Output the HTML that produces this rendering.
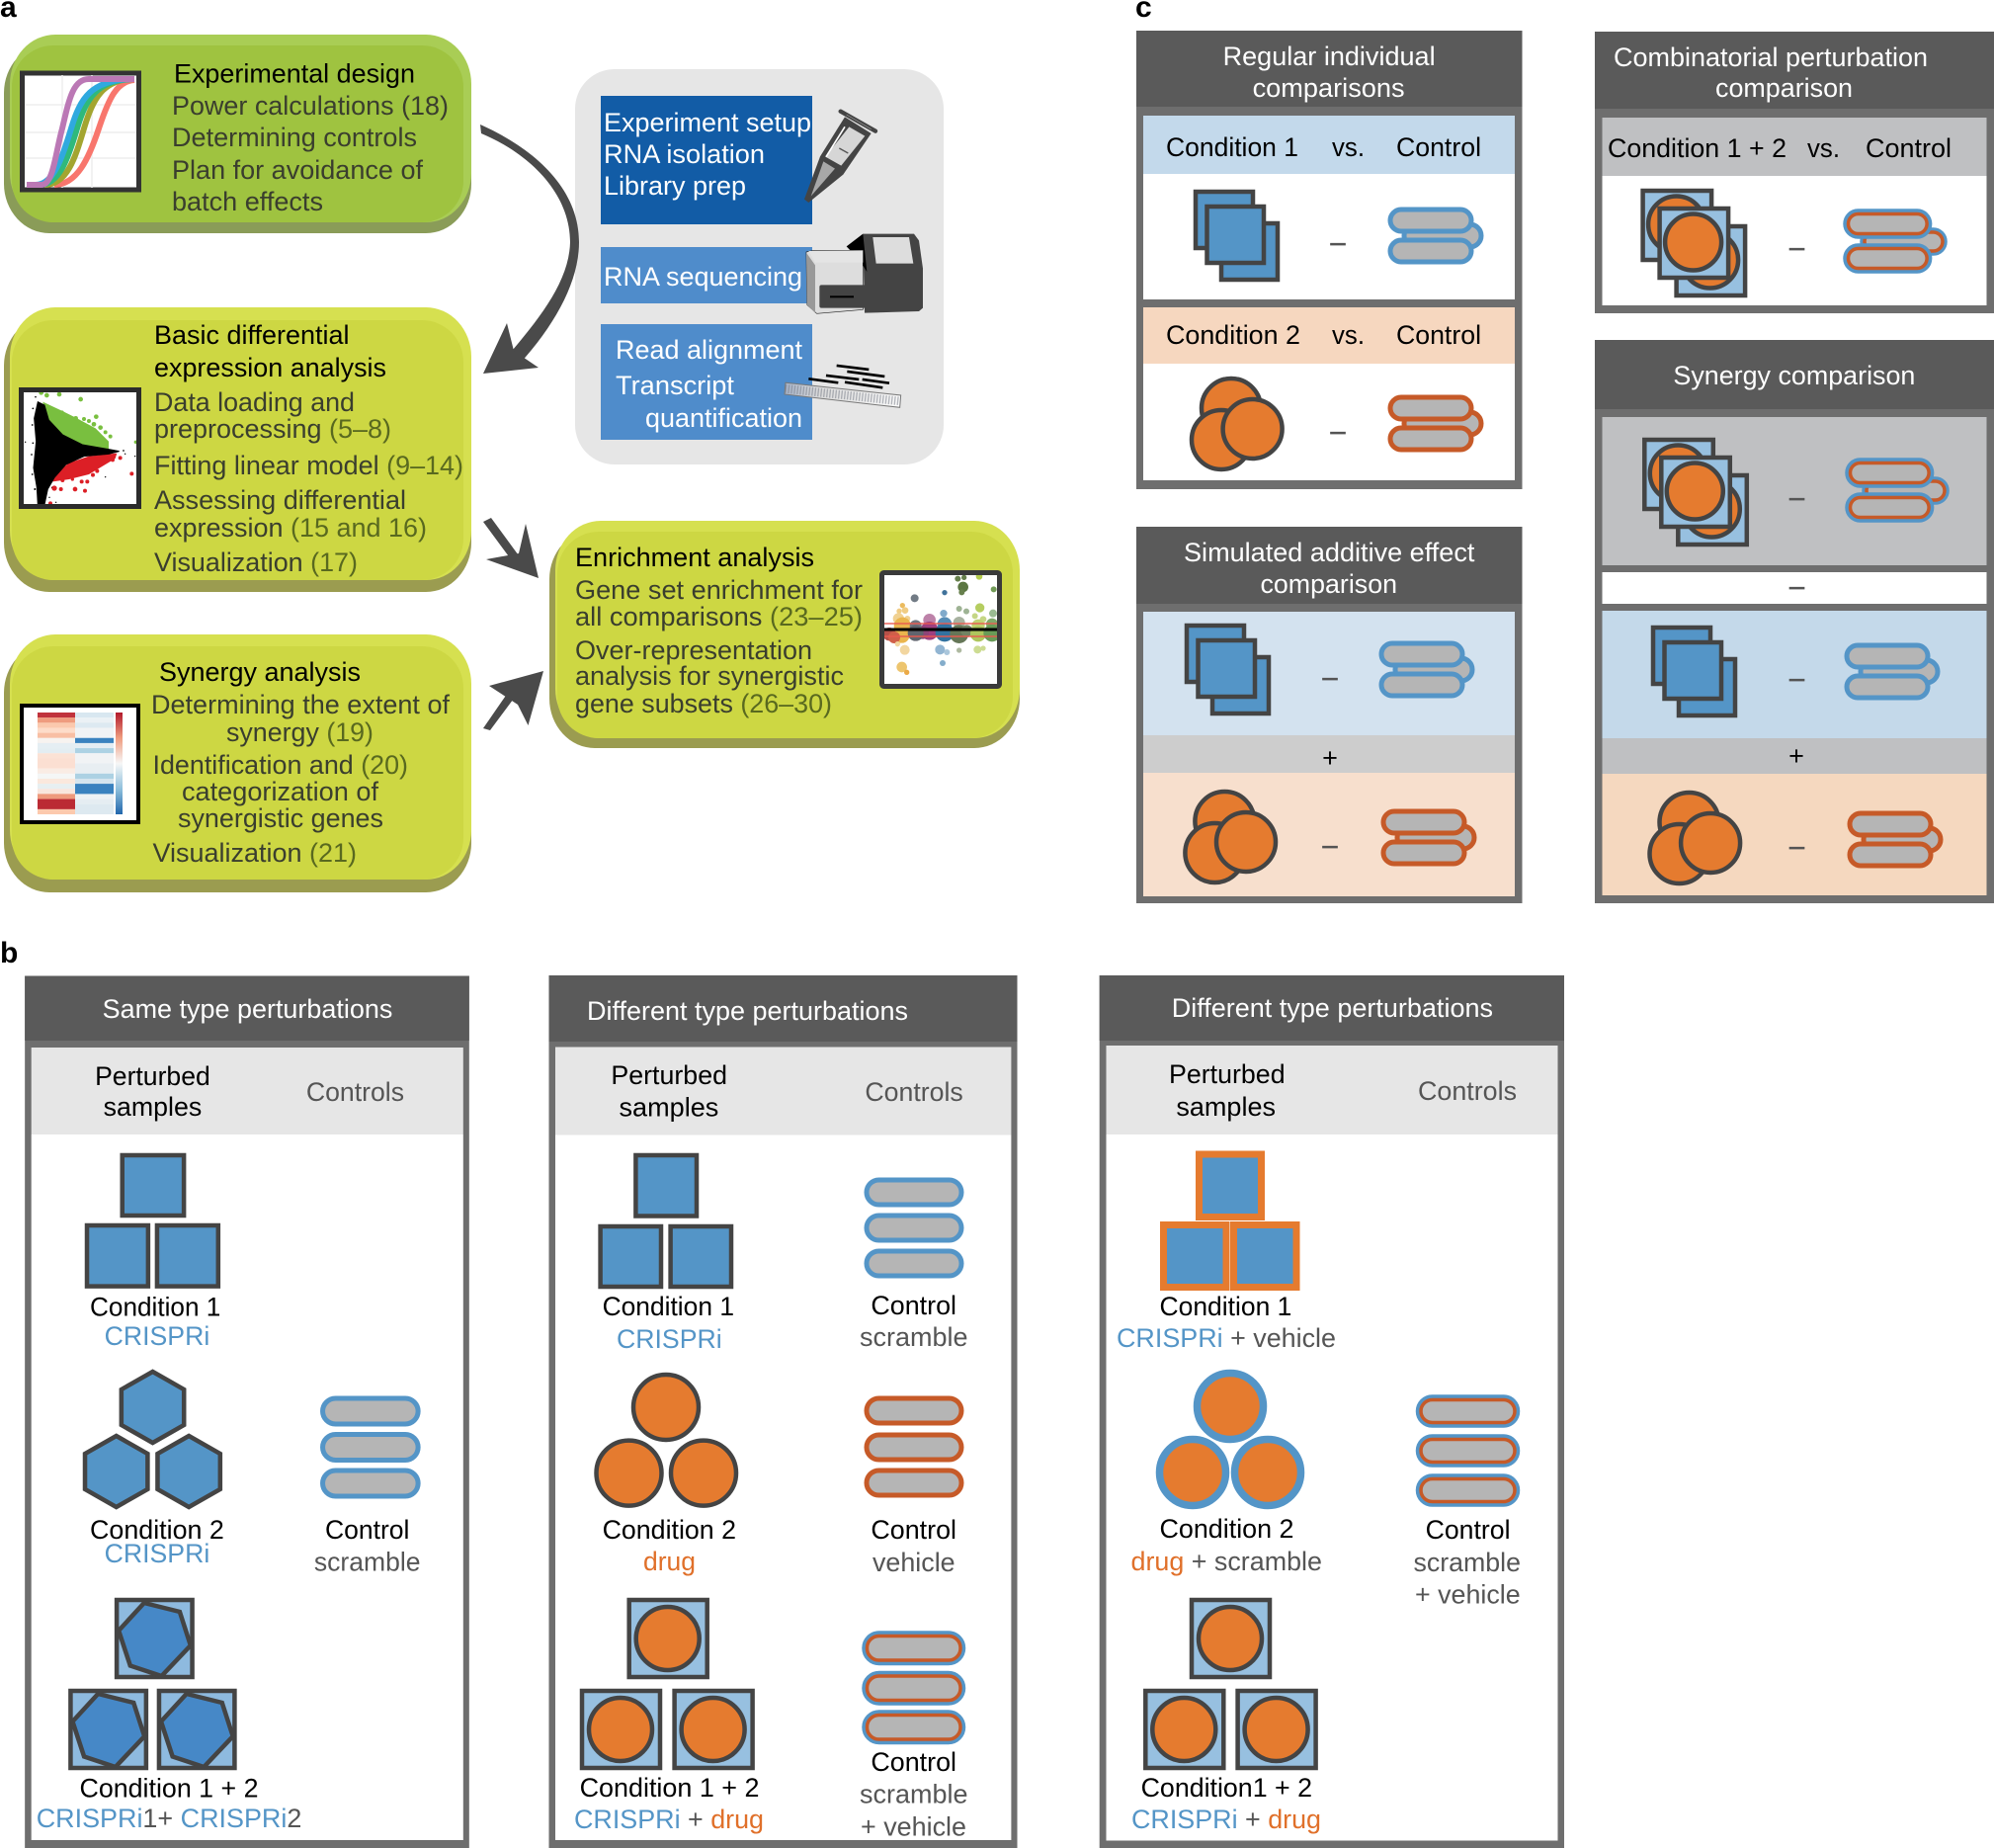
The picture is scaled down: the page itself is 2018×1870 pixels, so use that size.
<!DOCTYPE html>
<html><head><meta charset="utf-8"><style>
html,body{margin:0;padding:0;background:#fff}
svg{display:block}
text{font-family:"Liberation Sans",sans-serif;font-size:27px;fill:#000}
.bb text{transform:translateY(-1px)}
.b{fill:#3a3e2e}.r{fill:#59691f}.w{fill:#fff}.g{fill:#555}.u{fill:#5495c7}.o{fill:#e0702a}
.m{font-size:27px;fill:#555;text-anchor:middle;stroke:#555;stroke-width:.7}.p{text-anchor:middle}
.l{font-weight:bold;font-size:30px}
.pb{fill:#b5b5b5;stroke:#5495c7;stroke-width:5}
.po{fill:#b5b5b5;stroke:#c65a28;stroke-width:5}
.d1{fill:none;stroke:#5495c7;stroke-width:5.5}
.d2{fill:#b5b5b5;stroke:#c65a28;stroke-width:3.5}
.sq{fill:#5495c7;stroke:#444;stroke-width:4.5}
.ls{fill:#97c0e0;stroke:#444;stroke-width:4.5}
.ci{fill:#e57b2f;stroke:#444;stroke-width:4.5}
.hx{fill:#5495c7;stroke:#444;stroke-width:4.5}
.hr{fill:#4688c7;stroke:#444;stroke-width:4.5}
</style></head><body>
<svg xmlns="http://www.w3.org/2000/svg" width="2018" height="1870" viewBox="0 0 2018 1870">
<defs>
<g id="s3"><rect class="sq" x="2" y="2" width="58" height="57"/><rect class="sq" x="28" y="34" width="57" height="57"/><rect class="sq" x="13.5" y="17" width="57.5" height="57"/></g>
<g id="c3"><circle class="ci" cx="0" cy="0" r="30"/><circle class="ci" cx="-10" cy="32" r="30"/><circle class="ci" cx="21.6" cy="21" r="30"/></g>
<g id="pb"><rect class="pb" x="16" y="17" width="78" height="23" rx="11.5"/><rect class="pb" x="2" y="2" width="82" height="22" rx="11"/><rect class="pb" x="2" y="33" width="82" height="22" rx="11"/></g>
<g id="po"><rect class="po" x="16" y="17" width="78" height="23" rx="11.5"/><rect class="po" x="2" y="2" width="82" height="22" rx="11"/><rect class="po" x="2" y="33" width="82" height="22" rx="11"/></g>
<g id="dp"><rect class="d1" x="3" y="3" width="84.6" height="25" rx="12.5"/><rect class="d2" x="5.5" y="5.5" width="79.6" height="20" rx="10"/></g>
<g id="pd"><rect class="d1" x="20" y="22" width="83" height="23" rx="11.5" fill="#b5b5b5"/><rect class="d2" x="22" y="24" width="79" height="19" rx="9.5"/><use href="#dp"/><use href="#dp" y="35"/></g>
<g id="one"><rect class="ls" x="2" y="2" width="69.5" height="70"/><circle class="ci" cx="36" cy="36" r="28.5"/></g>
<g id="sc3"><use href="#one"/><use href="#one" x="34" y="36"/><use href="#one" x="17" y="18"/></g>
<g id="sc"><rect class="ls" x="2" y="2" width="79" height="78"/><circle class="ci" cx="41" cy="41" r="32"/></g>
<g id="sh"><rect x="2" y="2" width="76" height="78" fill="#8ebadf" stroke="#444" stroke-width="4.5"/><polygon class="hr" points="29.6,5 65.4,14 76.3,48 47.1,79 15.6,68.5 4,33"/></g>
<polygon id="hex" class="hx" points="0,-36 31.5,-18 31.5,18 0,36 -31.5,18 -31.5,-18"/>
<linearGradient id="cb" x1="0" y1="0" x2="0" y2="1"><stop offset="0" stop-color="#b2182b"/><stop offset=".25" stop-color="#ef9c7f"/><stop offset=".5" stop-color="#f7f7f7"/><stop offset=".75" stop-color="#8fc0dc"/><stop offset="1" stop-color="#2166ac"/></linearGradient>
<linearGradient id="rf" x1="0" y1="0" x2="1" y2="0"><stop offset="0" stop-color="#a5b2c8"/><stop offset=".3" stop-color="#dadada"/><stop offset="1" stop-color="#fafafa"/></linearGradient>
<clipPath id="cp4"><rect x="895" y="582" width="114" height="110"/></clipPath>
<clipPath id="cp2"><rect x="24" y="397" width="114" height="113"/></clipPath>
</defs>

<text class="l" x="0" y="17">a</text>
<text class="l" x="1149" y="17">c</text>
<text class="l" x="0" y="974">b</text>

<!-- Box 1 -->
<rect x="4" y="44" width="473" height="192" rx="46" ry="50" fill="#8a9c58"/>
<rect x="10" y="35" width="467" height="190" rx="46" ry="50" fill="#a9cd55"/>
<rect x="12" y="46" width="457" height="179" rx="42" ry="42" fill="#9fc340"/>
<rect x="22.5" y="74" width="118" height="118" fill="#fff" stroke="#333" stroke-width="5"/>
<g stroke="#eee" stroke-width="1.5" fill="none"><path d="M25,106H138M25,134H138M25,160H138M93,76V190M63,76V190"/></g>
<g fill="none" stroke-width="6" stroke-linecap="butt">
<path d="M55,187C78,187 90,160 100,130C110,100 118,82 136,81" stroke="#f8766d"/>
<path d="M45,187C68,187 76,160 85,130C94,100 104,80 136,80" stroke="#a3a530"/>
<path d="M40,187C60,187 69,160 78,130C87,100 98,80 136,80" stroke="#2fb97c"/>
<path d="M36,187C54,187 63,160 72,130C81,100 92,80 136,80" stroke="#2fa9df"/>
<path d="M27,187H42C54,187 56,155 63,130C70,100 74,80 90,80H136" stroke="#bb78b5"/>
</g>
<text x="176" y="83.5" textLength="244" lengthAdjust="spacingAndGlyphs">Experimental design</text>
<text class="b" x="174" y="116" textLength="280" lengthAdjust="spacingAndGlyphs">Power calculations (18)</text>
<text class="b" x="174" y="148" textLength="248" lengthAdjust="spacingAndGlyphs">Determining controls</text>
<text class="b" x="174" y="181" textLength="254" lengthAdjust="spacingAndGlyphs">Plan for avoidance of</text>
<text class="b" x="174" y="213" textLength="153" lengthAdjust="spacingAndGlyphs">batch effects</text>

<!-- Box 2 -->
<rect x="4" y="320" width="473" height="279" rx="46" ry="50" fill="#9b9c50"/>
<rect x="10" y="311" width="467" height="276" rx="46" ry="50" fill="#d6e050"/>
<rect x="12" y="324" width="457" height="263" rx="42" ry="42" fill="#cdd743"/>
<rect x="21.5" y="394.5" width="119" height="118" fill="#fff" stroke="#2b2b2b" stroke-width="5"/>
<g clip-path="url(#cp2)"><g transform="translate(10,380) scale(.3333)">
<polygon points="100,80 160,108 200,128 260,160 300,200 300,225 220,210 160,180 110,130" fill="#79bf3f"/>
<polygon points="130,322 135,300 180,265 240,245 325,236 320,252 240,300 180,315" fill="#dc1f26"/>
<polygon points="85,80 105,90 118,135 160,180 220,210 300,224 332,230 300,238 225,245 170,270 135,310 115,345 105,392 85,392 82,340 72,280 80,200 74,130" fill="#000" stroke="#000" stroke-width="3"/>
<g fill="#000"><circle cx="70" cy="205" r="2.5"/><circle cx="66" cy="240" r="2.5"/><circle cx="68" cy="150" r="2.5"/><circle cx="70" cy="100" r="2.5"/><circle cx="68" cy="300" r="2.5"/><circle cx="76" cy="345" r="3"/><circle cx="78" cy="65" r="2.5"/><circle cx="47" cy="202" r="2"/><circle cx="120" cy="370" r="2"/><circle cx="128" cy="340" r="2.5"/><circle cx="345" cy="228" r="2.5"/><circle cx="350" cy="238" r="2"/><circle cx="290" cy="308" r="2"/><circle cx="380" cy="245" r="2"/><circle cx="98" cy="385" r="3"/><circle cx="140" cy="385" r="2"/></g>
<g fill="#79bf3f"><circle cx="95" cy="52" r="7"/><circle cx="112" cy="60" r="7"/><circle cx="150" cy="57" r="7"/><circle cx="215" cy="72" r="7"/><circle cx="262" cy="125" r="7"/><circle cx="255" cy="148" r="7"/><circle cx="275" cy="158" r="7"/><circle cx="305" cy="185" r="6"/><circle cx="382" cy="202" r="5"/><circle cx="200" cy="130" r="7"/><circle cx="225" cy="132" r="6"/><circle cx="240" cy="138" r="6"/><circle cx="170" cy="122" r="7"/><circle cx="158" cy="112" r="6"/><circle cx="290" cy="172" r="6"/></g>
<g fill="#dc1f26"><circle cx="335" cy="250" r="6"/><circle cx="370" cy="298" r="6"/><circle cx="135" cy="342" r="8"/><circle cx="155" cy="345" r="6"/><circle cx="198" cy="345" r="7"/><circle cx="228" cy="350" r="6"/><circle cx="123" cy="388" r="6"/><circle cx="218" cy="322" r="6"/><circle cx="235" cy="322" r="6"/><circle cx="252" cy="302" r="6"/><circle cx="190" cy="315" r="5"/><circle cx="160" cy="318" r="6"/><circle cx="265" cy="290" r="6"/><circle cx="312" cy="256" r="6"/></g>
</g></g>
<text x="156" y="348" textLength="197.5" lengthAdjust="spacingAndGlyphs">Basic differential</text>
<text x="156" y="381" textLength="235" lengthAdjust="spacingAndGlyphs">expression analysis</text>
<text class="b" x="156" y="416" textLength="203" lengthAdjust="spacingAndGlyphs">Data loading and</text>
<text class="b" x="156" y="443" textLength="240" lengthAdjust="spacingAndGlyphs">preprocessing <tspan class="r">(5–8)</tspan></text>
<text class="b" x="156" y="480" textLength="313" lengthAdjust="spacingAndGlyphs">Fitting linear model <tspan class="r">(9–14)</tspan></text>
<text class="b" x="156" y="515" textLength="255" lengthAdjust="spacingAndGlyphs">Assessing differential</text>
<text class="b" x="156" y="543" textLength="276" lengthAdjust="spacingAndGlyphs">expression <tspan class="r">(15 and 16)</tspan></text>
<text class="b" x="156" y="578" textLength="206" lengthAdjust="spacingAndGlyphs">Visualization <tspan class="r">(17)</tspan></text>

<!-- Box 3 -->
<rect x="4" y="651" width="473" height="252" rx="46" ry="50" fill="#9b9c50"/>
<rect x="10" y="642" width="467" height="248" rx="46" ry="50" fill="#d6e050"/>
<rect x="12" y="654" width="457" height="236" rx="42" ry="42" fill="#cdd743"/>
<rect x="22" y="714" width="118" height="118" fill="#fff" stroke="#000" stroke-width="4"/>
<g transform="translate(38,721) scale(1,5.15)">
<g>
<rect y="0" width="38" height="1.02" fill="#c0323c"/><rect y="1" width="38" height="1.02" fill="#ef9c7f"/><rect y="2" width="38" height="1.02" fill="#fbc9ae"/><rect y="3" width="38" height="1.02" fill="#fddcc9"/><rect y="4" width="38" height="1.02" fill="#f8bfa4"/><rect y="5" width="38" height="1.02" fill="#f7f3f0"/><rect y="6" width="38" height="1.02" fill="#e5eef3"/><rect y="7" width="38" height="1.02" fill="#e3edf2"/><rect y="8" width="38" height="1.02" fill="#fbe2d5"/><rect y="9" width="38" height="1.02" fill="#fbdfd2"/><rect y="10" width="38" height="1.02" fill="#fbdfd2"/><rect y="11" width="38" height="1.02" fill="#f9ece4"/><rect y="12" width="38" height="1.02" fill="#f4f6f6"/><rect y="13" width="38" height="1.02" fill="#fae8dd"/><rect y="14" width="38" height="1.02" fill="#e7eff1"/><rect y="15" width="38" height="1.02" fill="#f9e6dd"/><rect y="16" width="38" height="1.02" fill="#ee9a7d"/><rect y="17" width="38" height="2.02" fill="#bb2a34"/><rect y="19" width="38" height="1" fill="#fcc9ad"/>
</g>
<g transform="translate(38,0)">
<rect y="0" width="39" height="1.02" fill="#d8e7f0"/><rect y="1" width="39" height="1.02" fill="#ebf1f5"/><rect y="2" width="39" height="1.02" fill="#dde9f1"/><rect y="3" width="39" height="2.02" fill="#f1f3f5"/><rect y="5" width="39" height="1.02" fill="#3a82bf"/><rect y="6" width="39" height="1.02" fill="#e4edf3"/><rect y="7" width="39" height="1.02" fill="#add2e4"/><rect y="8" width="39" height="2.02" fill="#f1f3f5"/><rect y="10" width="39" height="2.02" fill="#e8eef2"/><rect y="12" width="39" height="1.02" fill="#acd1e3"/><rect y="13" width="39" height="1.02" fill="#d5e5ee"/><rect y="14" width="39" height="2.02" fill="#3a82bf"/><rect y="16" width="39" height="1.02" fill="#edf2f5"/><rect y="17" width="39" height="1.02" fill="#e5edf2"/><rect y="18" width="39" height="2" fill="#dde9f0"/>
</g>
</g>
<rect x="117" y="721" width="7" height="103" fill="url(#cb)"/>
<text x="161" y="689" textLength="204" lengthAdjust="spacingAndGlyphs">Synergy analysis</text>
<text class="b" x="153" y="722" textLength="302" lengthAdjust="spacingAndGlyphs">Determining the extent of</text>
<text class="b" x="229" y="750" textLength="149" lengthAdjust="spacingAndGlyphs">synergy <tspan class="r">(19)</tspan></text>
<text class="b" x="154.5" y="783" textLength="258.5" lengthAdjust="spacingAndGlyphs">Identification and <tspan class="r">(20)</tspan></text>
<text class="b" x="184" y="810" textLength="199" lengthAdjust="spacingAndGlyphs">categorization of</text>
<text class="b" x="180" y="837" textLength="208" lengthAdjust="spacingAndGlyphs">synergistic genes</text>
<text class="b" x="154.5" y="872" textLength="206.5" lengthAdjust="spacingAndGlyphs">Visualization <tspan class="r">(21)</tspan></text>

<!-- Box 4 -->
<rect x="556" y="536" width="476" height="221" rx="46" ry="50" fill="#9b9c50"/>
<rect x="562" y="527" width="470" height="220" rx="46" ry="50" fill="#d6e050"/>
<rect x="564" y="538" width="461" height="209" rx="42" ry="42" fill="#cdd743"/>
<rect x="892.5" y="579.5" width="119" height="115" rx="2" fill="#fff" stroke="#3a3a3a" stroke-width="5"/>
<g clip-path="url(#cp4)"><g transform="translate(880,570) scale(.3333)" opacity=".85">
<circle cx="268" cy="47" r="9" fill="#4d6a2e"/><circle cx="287" cy="43" r="8" fill="#4d6a2e"/><circle cx="333" cy="40" r="10" fill="#a7c22f"/><circle cx="284" cy="72" r="16" fill="#3f5f22"/><circle cx="280" cy="88" r="9" fill="#4d6a2e"/><circle cx="377" cy="79" r="9" fill="#5a8a3a"/><circle cx="228" cy="89" r="8" fill="#1f5a8a"/><circle cx="137" cy="106" r="12" fill="#5a6570"/><circle cx="100" cy="128" r="8" fill="#e8b044"/><circle cx="108" cy="143" r="10" fill="#eec46f"/><circle cx="90" cy="145" r="8" fill="#eec46f"/><circle cx="88" cy="168" r="17" fill="#eec980"/><circle cx="115" cy="168" r="9" fill="#eec980"/><circle cx="100" cy="190" r="26" fill="#e8a92e"/><circle cx="98" cy="218" r="24" fill="#e8a92e"/><circle cx="60" cy="215" r="20" fill="#a9332a"/><circle cx="75" cy="225" r="18" fill="#c8442a"/><circle cx="182" cy="172" r="19" fill="#b26d9b"/><circle cx="182" cy="205" r="28" fill="#8e1e6a"/><circle cx="160" cy="210" r="20" fill="#7a2560"/><circle cx="140" cy="190" r="18" fill="#5a606a"/><circle cx="140" cy="212" r="24" fill="#454a55"/><circle cx="225" cy="152" r="11" fill="#6b9cc2"/><circle cx="228" cy="185" r="22" fill="#3a7aaa"/><circle cx="228" cy="210" r="28" fill="#0f5a90"/><circle cx="272" cy="138" r="9" fill="#8ea682"/><circle cx="294" cy="146" r="9" fill="#8ea682"/><circle cx="272" cy="180" r="18" fill="#9aa590"/><circle cx="272" cy="215" r="28" fill="#4b5f3a"/><circle cx="295" cy="205" r="18" fill="#5a6f48"/><circle cx="335" cy="135" r="14" fill="#a9c545"/><circle cx="320" cy="160" r="9" fill="#bccf70"/><circle cx="345" cy="170" r="10" fill="#bccf70"/><circle cx="330" cy="190" r="20" fill="#b5cb5a"/><circle cx="330" cy="214" r="24" fill="#a0bd40"/><circle cx="375" cy="152" r="12" fill="#8ab080"/><circle cx="372" cy="185" r="18" fill="#6a9a50"/><circle cx="372" cy="212" r="26" fill="#4f8a3a"/><circle cx="107" cy="263" r="15" fill="#f0cf90"/><circle cx="85" cy="245" r="8" fill="#f0cf90"/><circle cx="214" cy="262" r="15" fill="#7fa9cb"/><circle cx="235" cy="270" r="9" fill="#9cbdd5"/><circle cx="272" cy="264" r="8" fill="#a0ad90"/><circle cx="328" cy="262" r="12" fill="#c5d680"/><circle cx="345" cy="258" r="8" fill="#c5d680"/><circle cx="98" cy="315" r="16" fill="#ebbb55"/><circle cx="113" cy="331" r="8" fill="#e89c28"/><circle cx="222" cy="303" r="9" fill="#6f9fc2"/>
</g></g>
<path d="M895,631H1009M895,644H1009" stroke="#ea5a50" stroke-width="2" opacity=".7"/>
<path d="M895,637H1009" stroke="#000" stroke-width="3"/>
<text x="582" y="573" textLength="242" lengthAdjust="spacingAndGlyphs">Enrichment analysis</text>
<text class="b" x="582" y="606" textLength="291" lengthAdjust="spacingAndGlyphs">Gene set enrichment for</text>
<text class="b" x="582" y="633" textLength="291" lengthAdjust="spacingAndGlyphs">all comparisons <tspan class="r">(23–25)</tspan></text>
<text class="b" x="582" y="667" textLength="240" lengthAdjust="spacingAndGlyphs">Over-representation</text>
<text class="b" x="582" y="693" textLength="272" lengthAdjust="spacingAndGlyphs">analysis for synergistic</text>
<text class="b" x="582" y="721" textLength="260" lengthAdjust="spacingAndGlyphs">gene subsets <tspan class="r">(26–30)</tspan></text>

<!-- Center panel -->
<rect x="582" y="70" width="373" height="400" rx="40" ry="40" fill="#e6e6e6"/>
<rect x="608" y="97" width="214" height="130" fill="#125ca6"/>
<rect x="608" y="250" width="214" height="57" fill="#4f8ccb"/>
<rect x="608" y="328" width="214" height="117" fill="#4f8ccb"/>
<text class="w" x="611" y="133" textLength="210" lengthAdjust="spacingAndGlyphs">Experiment setup</text>
<text class="w" x="611" y="165" textLength="163" lengthAdjust="spacingAndGlyphs">RNA isolation</text>
<text class="w" x="611" y="197" textLength="144" lengthAdjust="spacingAndGlyphs">Library prep</text>
<text class="w" x="611" y="289" textLength="201" lengthAdjust="spacingAndGlyphs">RNA sequencing</text>
<text class="w" x="623" y="363" textLength="189" lengthAdjust="spacingAndGlyphs">Read alignment</text>
<text class="w" x="623" y="399" textLength="120" lengthAdjust="spacingAndGlyphs">Transcript</text>
<text class="w" x="653" y="432" textLength="159" lengthAdjust="spacingAndGlyphs">quantification</text>
<g transform="translate(790,100) scale(.3333)">
<polygon points="195,55 275,105 190,230 85,315 72,305 120,175" fill="#444"/>
<polygon points="208,85 256,113 184,203 136,176" fill="#d6d6d6"/>
<polygon points="130,190 165,212 92,296" fill="#a8a8a8"/>
<path d="M195,85L138,176" stroke="#fff" stroke-width="5"/>
<path d="M178,150L205,165" stroke="#555" stroke-width="4"/>
<path d="M182,38L288,98" stroke="#444" stroke-width="13" stroke-linecap="round"/>
<path d="M200,48L275,92" stroke="#999" stroke-width="2"/>
<polygon points="250,410 405,410 420,430 432,515 432,635 420,645 255,650" fill="#444"/>
<polygon points="200,448 250,410 262,525 240,490" fill="#000"/>
<polygon points="280,420 390,420 403,500 290,500" fill="#ddd"/>
<polygon points="78,465 100,460 250,460 250,640 110,652 80,625" fill="#ddd" stroke="#222" stroke-width="2"/>
<polygon points="78,467 105,505 105,650 80,625" fill="#999"/>
<polygon points="85,462 250,460 250,497 105,497" fill="#e4e4e4"/>
<rect x="118" y="565" width="160" height="70" rx="6" fill="#444"/>
<rect x="150" y="598" width="72" height="6" fill="#000"/>
<path d="M170,810L268,822M202,828L316,843M138,840L238,852M248,852L330,863M85,850L175,862M195,860L310,877" stroke="#000" stroke-width="8"/>
<polygon points="15,862 365,900 362,937 12,897" fill="url(#rf)" stroke="#777" stroke-width="3"/>
<path d="M14,880L364,918" stroke="#7a7f8a" stroke-width="26" stroke-dasharray="4 5" opacity=".55"/>
</g>

<!-- Arrows -->
<path d="M486,126C540,150 586,190 586,245C586,285 562,328 526,368L514,360C546,322 576,285 577,245C577,195 535,155 487,135Z" fill="#4a4a4a"/>
<polygon points="489,378 513,327 520,355 545,372" fill="#4a4a4a"/>
<polygon points="489,528 497,524 527,565 520,570" fill="#4a4a4a"/>
<polygon points="545,585 532,530 525,560 492,566" fill="#4a4a4a"/>
<polygon points="489,737 496,739 525,700 518,695" fill="#4a4a4a"/>
<polygon points="550,679 495,694 524,713 534.5,734" fill="#4a4a4a"/>

<!-- Panel c: Regular -->
<rect x="1150" y="31" width="390.5" height="464" fill="#6e6e6e"/>
<rect x="1150" y="31" width="390.5" height="77" fill="#5a5a5a"/>
<rect x="1157" y="117" width="376" height="59" fill="#c3d9eb"/>
<rect x="1157" y="176" width="376" height="127" fill="#fff"/>
<rect x="1157" y="311" width="376" height="57" fill="#f6d7bf"/>
<rect x="1157" y="368" width="376" height="118" fill="#fff"/>
<text class="w" x="1237.6" y="66" textLength="215" lengthAdjust="spacingAndGlyphs">Regular individual</text>
<text class="w" x="1267.6" y="98" textLength="154" lengthAdjust="spacingAndGlyphs">comparisons</text>
<text x="1180" y="158" textLength="134" lengthAdjust="spacingAndGlyphs">Condition 1</text>
<text x="1348" y="158" textLength="33" lengthAdjust="spacingAndGlyphs">vs.</text>
<text x="1413" y="158" textLength="86" lengthAdjust="spacingAndGlyphs">Control</text>
<text x="1180" y="348" textLength="136" lengthAdjust="spacingAndGlyphs">Condition 2</text>
<text x="1348" y="348" textLength="33" lengthAdjust="spacingAndGlyphs">vs.</text>
<text x="1413" y="348" textLength="86" lengthAdjust="spacingAndGlyphs">Control</text>
<use href="#s3" x="1208" y="192"/><use href="#pb" x="1405" y="210"/>
<text class="m" x="1354" y="254">–</text>
<use href="#c3" x="1246" y="413"/><use href="#po" x="1405" y="400"/>
<text class="m" x="1354" y="445">–</text>

<!-- Panel c: Simulated -->
<rect x="1150" y="533" width="390.5" height="381" fill="#6e6e6e"/>
<rect x="1150" y="533" width="390.5" height="78" fill="#5a5a5a"/>
<rect x="1157" y="619" width="376" height="125" fill="#d3e2ef"/>
<rect x="1157" y="744" width="376" height="38" fill="#cdcdcd"/>
<rect x="1157" y="782" width="376" height="125" fill="#f7dfcd"/>
<text class="w" x="1198" y="568" textLength="294.4" lengthAdjust="spacingAndGlyphs">Simulated additive effect</text>
<text class="w" x="1275.5" y="600" textLength="138.5" lengthAdjust="spacingAndGlyphs">comparison</text>
<use href="#s3" x="1199" y="631"/><use href="#pb" x="1396" y="649"/>
<text class="m" x="1346" y="694">–</text>
<text class="p" x="1346" y="776">+</text>
<use href="#c3" x="1239.4" y="831"/><use href="#po" x="1398" y="819"/>
<text class="m" x="1346" y="864">–</text>

<!-- Panel c: Combinatorial -->
<rect x="1614" y="32" width="404" height="285" fill="#6e6e6e"/>
<rect x="1614" y="32" width="404" height="78" fill="#5a5a5a"/>
<rect x="1621.5" y="119" width="389" height="59" fill="#bfc0c2"/>
<rect x="1621.5" y="178" width="389" height="131" fill="#fff"/>
<text class="w" x="1633" y="67" textLength="318" lengthAdjust="spacingAndGlyphs">Combinatorial perturbation</text>
<text class="w" x="1736" y="98" textLength="139" lengthAdjust="spacingAndGlyphs">comparison</text>
<text x="1627" y="159" textLength="181" lengthAdjust="spacingAndGlyphs">Condition 1 + 2</text>
<text x="1829" y="159" textLength="33" lengthAdjust="spacingAndGlyphs">vs.</text>
<text x="1888" y="159" textLength="87" lengthAdjust="spacingAndGlyphs">Control</text>
<use href="#sc3" x="1660.6" y="191"/><use href="#pd" x="1865" y="211"/>
<text class="m" x="1818.5" y="259">–</text>

<!-- Panel c: Synergy -->
<rect x="1614" y="344" width="404" height="570" fill="#6e6e6e"/>
<rect x="1614" y="344" width="404" height="70" fill="#5a5a5a"/>
<rect x="1621.5" y="422" width="389" height="150" fill="#bfc0c2"/>
<rect x="1621.5" y="579" width="389" height="32" fill="#fff"/>
<rect x="1621.5" y="618" width="389" height="129" fill="#c4d9ea"/>
<rect x="1621.5" y="747" width="389" height="36" fill="#bfc0c2"/>
<rect x="1621.5" y="783" width="389" height="123" fill="#f5d8bf"/>
<text class="w" x="1693.4" y="389" textLength="245" lengthAdjust="spacingAndGlyphs">Synergy comparison</text>
<use href="#sc3" x="1662.3" y="443"/><use href="#pd" x="1867" y="463"/>
<text class="m" x="1818.5" y="512">–</text>
<text class="m" x="1818.5" y="602">–</text>
<use href="#s3" x="1671" y="633"/><use href="#pb" x="1867" y="651"/>
<text class="m" x="1818.5" y="695">–</text>
<text class="p" x="1818" y="774">+</text>
<use href="#c3" x="1709.5" y="832"/><use href="#po" x="1870" y="821"/>
<text class="m" x="1818.5" y="865">–</text>

<!-- Panel b: box 1 -->
<g class="bb" transform="scale(1.006,1)">
<rect x="25" y="987.5" width="447" height="882.5" fill="#6e6e6e"/>
<rect x="25" y="987.5" width="447" height="65.5" fill="#5a5a5a"/>
<rect x="31.5" y="1060" width="434.5" height="87.6" fill="#e6e6e6"/>
<rect x="31.5" y="1147.6" width="434.5" height="714.4" fill="#fff"/>
<text class="w" x="103" y="1031" textLength="292" lengthAdjust="spacingAndGlyphs">Same type perturbations</text>
<text x="95.5" y="1099" textLength="116" lengthAdjust="spacingAndGlyphs">Perturbed</text>
<text x="104" y="1130" textLength="99" lengthAdjust="spacingAndGlyphs">samples</text>
<text class="g" x="308" y="1115" textLength="98.6" lengthAdjust="spacingAndGlyphs">Controls</text>
<rect class="sq" x="123" y="1169" width="62" height="61"/>
<rect class="sq" x="87.5" y="1240" width="61.5" height="61.6"/>
<rect class="sq" x="158" y="1240" width="61.5" height="61.6"/>
<text x="90.5" y="1332.6" textLength="131.5" lengthAdjust="spacingAndGlyphs">Condition 1</text>
<text class="u" x="105" y="1362" textLength="106" lengthAdjust="spacingAndGlyphs">CRISPRi</text>
<use href="#hex" x="153.6" y="1424"/><use href="#hex" x="117" y="1489"/><use href="#hex" x="190" y="1489"/>
<text x="90.5" y="1558" textLength="135" lengthAdjust="spacingAndGlyphs">Condition 2</text>
<text class="u" x="105" y="1582" textLength="106" lengthAdjust="spacingAndGlyphs">CRISPRi</text>
<use href="#sh" x="115.4" y="1617"/><use href="#sh" x="69" y="1709"/><use href="#sh" x="158" y="1709"/>
<text x="80" y="1819.6" textLength="180" lengthAdjust="spacingAndGlyphs">Condition 1 + 2</text>
<text class="g" x="36.5" y="1850" textLength="267" lengthAdjust="spacingAndGlyphs"><tspan class="u">CRISPRi</tspan>1+ <tspan class="u">CRISPRi</tspan>2</text>
<rect class="pb" x="324.6" y="1415" width="96" height="26" rx="13"/>
<rect class="pb" x="324.6" y="1451.5" width="96" height="26" rx="13"/>
<rect class="pb" x="324.6" y="1488" width="96" height="26" rx="13"/>
<text x="327" y="1558" textLength="85" lengthAdjust="spacingAndGlyphs">Control</text>
<text class="g" x="316" y="1590.6" textLength="107" lengthAdjust="spacingAndGlyphs">scramble</text>
</g>

<!-- Panel b: box 2 -->
<g class="bb">
<rect x="555.5" y="987" width="474" height="883" fill="#6e6e6e"/>
<rect x="555.5" y="987" width="474" height="67" fill="#5a5a5a"/>
<rect x="562" y="1059.5" width="461.4" height="89" fill="#e6e6e6"/>
<rect x="562" y="1148.5" width="461.4" height="713.5" fill="#fff"/>
<text class="w" x="594" y="1033" textLength="325" lengthAdjust="spacingAndGlyphs">Different type perturbations</text>
<text x="618.4" y="1098" textLength="117.6" lengthAdjust="spacingAndGlyphs">Perturbed</text>
<text x="626.5" y="1130.4" textLength="100.8" lengthAdjust="spacingAndGlyphs">samples</text>
<text class="g" x="875.4" y="1115" textLength="99.4" lengthAdjust="spacingAndGlyphs">Controls</text>
<rect class="sq" x="643.4" y="1169" width="61.6" height="61.5"/>
<rect class="sq" x="607.6" y="1241" width="61.4" height="61"/>
<rect class="sq" x="678.6" y="1241" width="61.4" height="61"/>
<text x="609.6" y="1332" textLength="133.4" lengthAdjust="spacingAndGlyphs">Condition 1</text>
<text class="u" x="624" y="1365" textLength="106.7" lengthAdjust="spacingAndGlyphs">CRISPRi</text>
<rect class="pb" x="877" y="1194" width="96" height="25" rx="12.5"/>
<rect class="pb" x="877" y="1230" width="96" height="25" rx="12.5"/>
<rect class="pb" x="877" y="1266" width="96" height="25" rx="12.5"/>
<text x="881.4" y="1331" textLength="86.6" lengthAdjust="spacingAndGlyphs">Control</text>
<text class="g" x="870" y="1363" textLength="109.5" lengthAdjust="spacingAndGlyphs">scramble</text>
<circle class="ci" cx="674" cy="1424" r="33"/><circle class="ci" cx="636.5" cy="1490.6" r="33"/><circle class="ci" cx="712" cy="1490.6" r="33"/>
<text x="609.6" y="1558" textLength="135.4" lengthAdjust="spacingAndGlyphs">Condition 2</text>
<text class="o" x="651" y="1590" textLength="53" lengthAdjust="spacingAndGlyphs">drug</text>
<rect class="po" x="877" y="1415" width="96" height="25" rx="12.5"/>
<rect class="po" x="877" y="1452" width="96" height="25" rx="12.5"/>
<rect class="po" x="877" y="1488" width="96" height="25" rx="12.5"/>
<text x="881.4" y="1558" textLength="86.6" lengthAdjust="spacingAndGlyphs">Control</text>
<text class="g" x="883" y="1591" textLength="83.6" lengthAdjust="spacingAndGlyphs">vehicle</text>
<use href="#sc" x="634.7" y="1617"/><use href="#sc" x="587" y="1709"/><use href="#sc" x="680.6" y="1709"/>
<text x="586.6" y="1819" textLength="181.9" lengthAdjust="spacingAndGlyphs">Condition 1 + 2</text>
<text class="g" x="581" y="1851" textLength="192" lengthAdjust="spacingAndGlyphs"><tspan class="u">CRISPRi</tspan> + <tspan class="o">drug</tspan></text>
<rect class="d1" x="875" y="1653" width="99.5" height="29.5" rx="14.7"/><rect class="d2" x="877.5" y="1655.5" width="94.5" height="24.5" rx="12"/>
<rect class="d1" x="875" y="1693.5" width="99.5" height="29.5" rx="14.7"/><rect class="d2" x="877.5" y="1696" width="94.5" height="24.5" rx="12"/>
<rect class="d1" x="875" y="1733" width="99.5" height="29.5" rx="14.7"/><rect class="d2" x="877.5" y="1735.5" width="94.5" height="24.5" rx="12"/>
<text x="881.4" y="1793" textLength="86.6" lengthAdjust="spacingAndGlyphs">Control</text>
<text class="g" x="870" y="1825.6" textLength="109.5" lengthAdjust="spacingAndGlyphs">scramble</text>
<text class="g" x="871" y="1858.5" textLength="107" lengthAdjust="spacingAndGlyphs">+ vehicle</text>
</g>

<!-- Panel b: box 3 -->
<g class="bb">
<rect x="1112.7" y="987" width="470.3" height="883" fill="#6e6e6e"/>
<rect x="1112.7" y="987" width="470.3" height="66" fill="#5a5a5a"/>
<rect x="1119.5" y="1058" width="457" height="90" fill="#e6e6e6"/>
<rect x="1119.5" y="1148" width="457" height="714.5" fill="#fff"/>
<text class="w" x="1185.7" y="1030" textLength="325.3" lengthAdjust="spacingAndGlyphs">Different type perturbations</text>
<text x="1183" y="1097" textLength="117.6" lengthAdjust="spacingAndGlyphs">Perturbed</text>
<text x="1190.4" y="1130" textLength="100.6" lengthAdjust="spacingAndGlyphs">samples</text>
<text class="g" x="1435" y="1114" textLength="100" lengthAdjust="spacingAndGlyphs">Controls</text>
<g fill="#5495c7" stroke="#e57b2f" stroke-width="7">
<rect x="1213.5" y="1168" width="63" height="63.5"/>
<rect x="1177.5" y="1239.5" width="63.5" height="63"/>
<rect x="1248.5" y="1239.5" width="63.5" height="63"/>
</g>
<text x="1173.5" y="1332" textLength="133.9" lengthAdjust="spacingAndGlyphs">Condition 1</text>
<text class="g" x="1130" y="1364" textLength="222" lengthAdjust="spacingAndGlyphs"><tspan class="u">CRISPRi</tspan> + vehicle</text>
<g fill="#e57b2f" stroke="#5495c7" stroke-width="7.5">
<circle cx="1245" cy="1423" r="33.5"/><circle cx="1207" cy="1490" r="33.5"/><circle cx="1283" cy="1490" r="33.5"/>
</g>
<text x="1173.5" y="1557" textLength="136" lengthAdjust="spacingAndGlyphs">Condition 2</text>
<text class="g" x="1144.5" y="1590" textLength="193.5" lengthAdjust="spacingAndGlyphs"><tspan class="o">drug</tspan> + scramble</text>
<use href="#sc" x="1204" y="1617"/><use href="#sc" x="1157.3" y="1709"/><use href="#sc" x="1250.6" y="1709"/>
<text x="1154.6" y="1819" textLength="173.4" lengthAdjust="spacingAndGlyphs">Condition1 + 2</text>
<text class="g" x="1145" y="1851" textLength="192" lengthAdjust="spacingAndGlyphs"><tspan class="u">CRISPRi</tspan> + <tspan class="o">drug</tspan></text>
<rect class="d1" x="1435.5" y="1414" width="100" height="28" rx="14"/><rect class="d2" x="1438" y="1416.5" width="95" height="23" rx="11.5"/>
<rect class="d1" x="1435.5" y="1454" width="100" height="28" rx="14"/><rect class="d2" x="1438" y="1456.5" width="95" height="23" rx="11.5"/>
<rect class="d1" x="1435.5" y="1494" width="100" height="28" rx="14"/><rect class="d2" x="1438" y="1496.5" width="95" height="23" rx="11.5"/>
<text x="1442.6" y="1558" textLength="85.9" lengthAdjust="spacingAndGlyphs">Control</text>
<text class="g" x="1430.5" y="1591" textLength="108.5" lengthAdjust="spacingAndGlyphs">scramble</text>
<text class="g" x="1432" y="1623.5" textLength="106.7" lengthAdjust="spacingAndGlyphs">+ vehicle</text>
</g>
</svg>
</body></html>
